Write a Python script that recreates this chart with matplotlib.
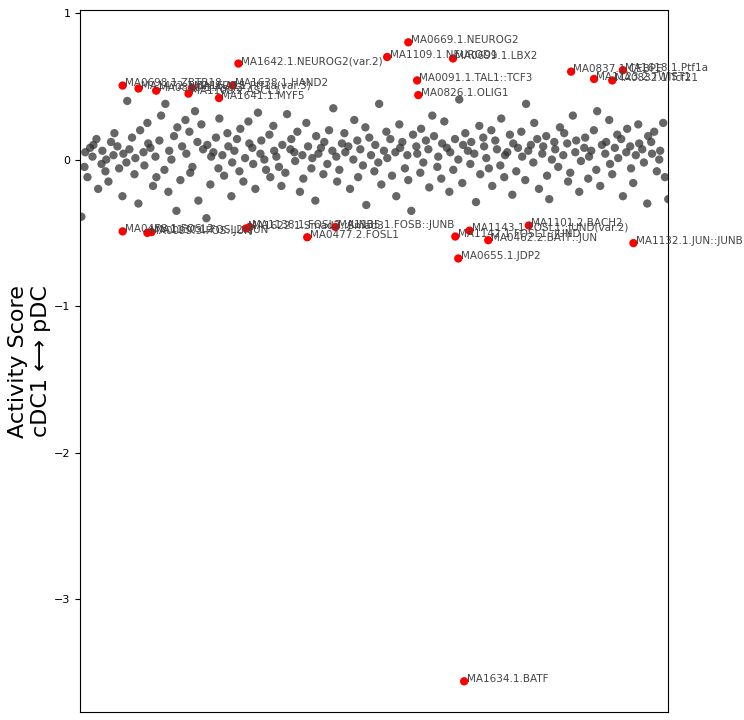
import matplotlib
matplotlib.use("Agg")
import matplotlib.pyplot as plt
import numpy as np

# background motifs (activity score)
bg_scores = [
 -0.39,0.05,-0.05,0.08,-0.12,0.02,0.10,-0.20,0.14,-0.03,0.06,0.00,-0.08,0.12,-0.15,0.03,0.18,-0.06,0.09,-0.25,
 0.04,0.40,-0.02,0.15,0.07,-0.10,0.01,0.20,-0.30,0.05,-0.04,0.11,0.25,-0.18,0.08,0.02,-0.12,0.30,0.13,-0.07,
 0.38,0.06,-0.22,0.16,0.00,-0.35,0.22,0.09,-0.14,0.27,0.04,-0.09,0.19,0.33,-0.05,0.12,-0.28,0.07,0.24,-0.40,
 0.10,0.02,-0.17,0.15,0.05,-0.06,0.28,-0.11,0.03,0.18,0.09,-0.02,-0.25,0.14,0.06,-0.08,0.21,0.01,-0.15,0.26,
 0.11,-0.03,0.08,0.32,-0.20,0.04,0.13,-0.07,0.00,0.17,-0.12,0.06,0.23,-0.05,0.02,-0.18,0.10,0.31,-0.09,0.07,
 0.14,-0.01,0.05,-0.22,0.19,0.03,-0.13,0.09,0.25,-0.06,0.01,0.16,-0.28,0.08,0.04,-0.10,0.12,0.20,-0.03,0.06,
 0.35,-0.15,0.02,0.11,-0.07,0.18,0.05,-0.20,0.09,0.00,0.27,-0.12,0.13,-0.04,0.07,0.22,-0.31,0.03,0.15,-0.08,
 0.10,0.38,-0.02,0.06,-0.17,0.19,0.01,-0.11,0.14,0.05,-0.25,0.08,0.24,-0.06,0.12,0.03,-0.14,0.17,-0.35,0.09,
 0.04,0.21,-0.09,0.13,-0.02,0.07,-0.19,0.16,0.30,-0.05,0.02,0.11,-0.13,0.08,0.26,-0.22,0.05,0.14,-0.07,0.00,
 0.41,0.10,-0.16,0.06,0.18,-0.03,0.12,-0.29,0.04,0.23,-0.10,0.09,0.15,-0.06,0.01,0.20,-0.18,0.07,0.13,-0.04,
 0.28,0.03,-0.12,0.17,0.05,-0.24,0.11,0.08,-0.08,0.19,0.02,0.38,-0.14,0.10,0.06,-0.02,0.25,-0.20,0.14,0.04,
 0.09,-0.11,0.16,0.00,-0.27,0.12,0.07,0.22,-0.05,0.03,0.18,-0.15,0.11,0.30,-0.09,0.05,0.13,-0.01,-0.22,0.08,
 0.15,0.02,-0.13,0.20,0.06,-0.07,0.33,0.10,-0.18,0.04,0.12,-0.03,0.27,0.08,-0.10,0.17,0.01,-0.25,0.14,0.05,
 0.21,-0.06,0.09,0.03,-0.16,0.24,0.11,-0.02,0.07,-0.30,0.16,0.04,0.12,-0.08,0.19,0.00,0.06,-0.12,0.25,-0.27,
]
bg_jitter = [0.0,0.3,-0.2,0.4,-0.4,0.1,-0.1,0.35,-0.3,0.2]

hl_x = [0.072,0.099,0.129,0.184,0.190,0.259,0.236,0.269,0.522,0.558,0.634,0.573,0.575,0.835,0.874,0.905,0.923,
        0.072,0.114,0.121,0.282,0.288,0.434,0.386,0.638,0.662,0.694,0.763,0.643,0.941,0.653]
hl_y = [0.505,0.485,0.47,0.45,0.49,0.505,0.42,0.655,0.70,0.80,0.69,0.54,0.44,0.60,0.55,0.54,0.61,
        -0.49,-0.50,-0.495,-0.47,-0.46,-0.46,-0.53,-0.525,-0.485,-0.55,-0.45,-0.675,-0.57,-3.56]
hl_labels = ["MA0698.1.ZBTB18","MA1472.1.BHLHA15","MA0816.1.Ascl2","MA1100.2.ASCL1","MA1620.1.Ptf1a(var.3)",
             "MA1638.1.HAND2","MA1641.1.MYF5","MA1642.1.NEUROG2(var.2)","MA1109.1.NEUROD1","MA0669.1.NEUROG2",
             "MA0699.1.LBX2","MA0091.1.TAL1::TCF3","MA0826.1.OLIG1","MA0837.1.CEBPE","MA1123.2.TWIST1",
             "MA0832.1.Tcf21","MA1618.1.Ptf1a",
             "MA0478.1.FOSL2","MA0099.3.FOS::JUN","MA1130.1.FOSL2::JUN","MA1622.1.Smad2::Smad3",
             "MA1138.1.FOSL2::JUNB","MA1135.1.FOSB::JUNB","MA0477.2.FOSL1","MA1142.1.FOSL1::JUND",
             "MA1143.1.FOSL1::JUND(var.2)","MA0462.2.BATF::JUN","MA1101.2.BACH2","MA0655.1.JDP2",
             "MA1132.1.JUN::JUNB","MA1634.1.BATF"]

fig = plt.figure(figsize=(7.44, 7.20), dpi=100)
ax = fig.add_axes([0.108, 0.011, 0.790, 0.975])
n = len(bg_scores)
xs = [(i + 0.5) / n + bg_jitter[i % len(bg_jitter)] * 0.01 for i in range(n)]
ax.scatter(xs, bg_scores, s=36, color="#333333", alpha=0.75, edgecolors="none", zorder=2)
ax.scatter(hl_x, hl_y, s=36, color="red", edgecolors="none", zorder=3)
for x, y, t in zip(hl_x, hl_y, hl_labels):
    ax.text(x + 0.004, y + 0.015, t, fontsize=7.5, color="#444444", va="center", ha="left", zorder=4)
ax.set_xlim(0, 1)
ax.set_ylim(-3.77, 1.02)
ax.set_xticks([])
ax.set_yticks([1, 0, -1, -2, -3])
ax.tick_params(labelsize=8)
ax.set_ylabel("Activity Score\ncDC1 \u27f7 pDC", fontsize=16, labelpad=2)
fig.savefig("out.png", dpi=100)
